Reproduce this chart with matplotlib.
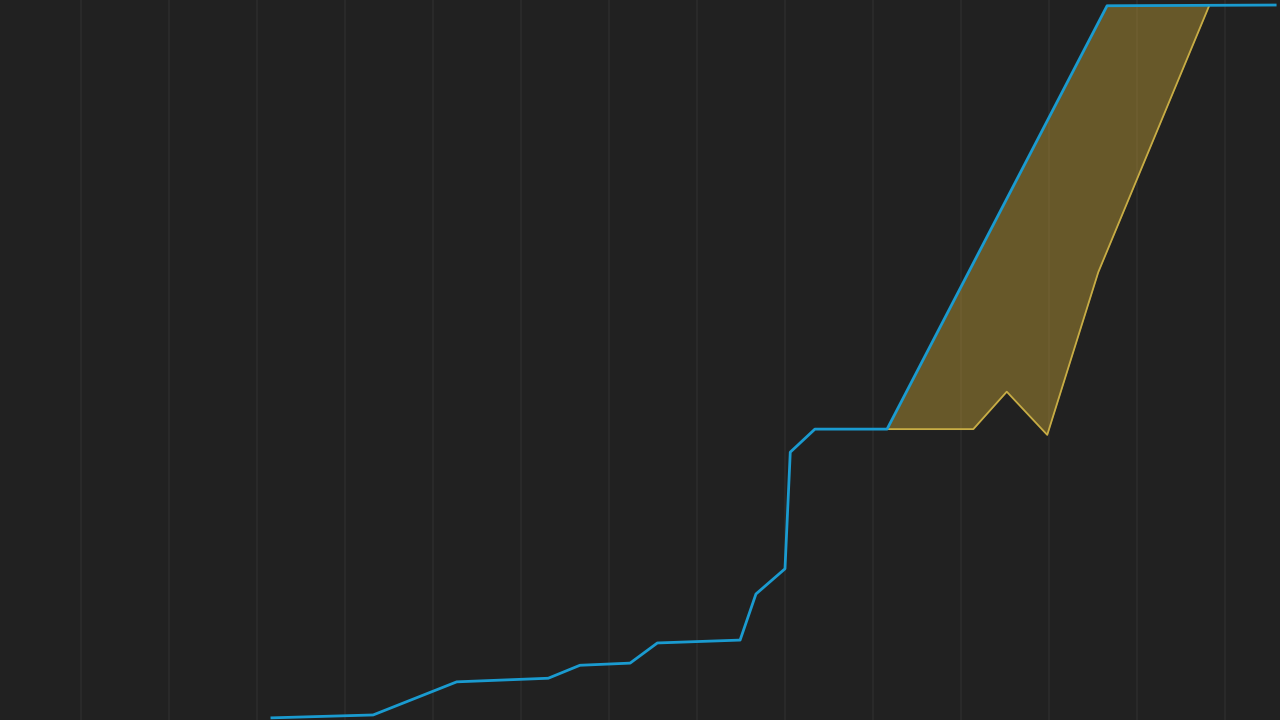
import matplotlib
matplotlib.use("Agg")
import matplotlib.pyplot as plt
import numpy as np

# blue series (actual)
actual_x = [2.17, 3.32, 4.27, 5.31, 5.67, 6.24, 6.55, 7.49, 7.67, 8.0, 8.06, 8.34, 9.16, 11.66, 13.57]
actual_y = [0.3, 0.7, 5.3, 5.8, 7.6, 7.9, 10.7, 11.1, 17.5, 21.0, 37.2, 40.4, 40.4, 99.2, 99.3]

# yellow series (lagging)
lag_x = [9.16, 10.14, 10.52, 10.98, 11.56, 12.82]
lag_y = [40.4, 40.4, 45.6, 39.6, 62.2, 99.2]

grid_x = np.arange(0, 14)

bg = "#212121"
blue = "#1a9bd0"
gold = "#c8ad45"

fig = plt.figure(figsize=(12.8, 7.2), dpi=100)
fig.patch.set_facecolor(bg)
ax = fig.add_axes([0, 0, 1, 1])
ax.set_facecolor(bg)

ax.set_xlim(-0.92, 13.625)
ax.set_ylim(0, 100)
for gx in grid_x:
    ax.axvline(gx, color="#2b2b2b", lw=1.2, zorder=0)

# fill between the two series over their common span
xs = np.union1d(actual_x, lag_x)
xs = xs[(xs >= lag_x[0]) & (xs <= lag_x[-1])]
top = np.interp(xs, actual_x, actual_y)
bot = np.interp(xs, lag_x, lag_y)
ax.fill_between(xs, bot, top, color="#c9a536", alpha=0.42, lw=0, zorder=1)

ax.plot(lag_x, lag_y, color=gold, lw=1.3, zorder=2)
ax.plot(actual_x, actual_y, color=blue, lw=2.0, zorder=3)

ax.axis("off")
fig.savefig("out.png", dpi=100, facecolor=bg)
